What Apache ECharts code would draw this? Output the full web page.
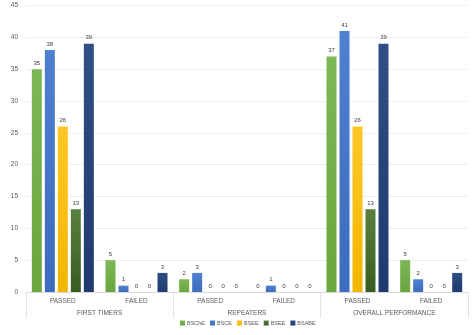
<!DOCTYPE html>
<html><head><meta charset="utf-8">
<script src="https://cdn.jsdelivr.net/npm/echarts@6/dist/echarts.min.js"></script>
<style>html,body{margin:0;padding:0;background:#fff}#c{width:474px;height:335px}</style>
</head><body><div id="c"></div>
<script>
const categories = ['PASSED','FAILED','PASSED','FAILED','PASSED','FAILED'];
const groups = ['FIRST TIMERS','REPEATERS','OVERALL PERFORMANCE'];
const seriesNames = ['BSChE','BSCE','BSEE','BSEE ','BSABE'];
const bsche = [35, 5, 2, 0, 37, 5];
const bsce  = [38, 1, 3, 1, 41, 2];
const bsee  = [26, 0, 0, 0, 26, 0];
const bsee2 = [13, 0, 0, 0, 13, 0];
const bsabe = [39, 3, 0, 0, 39, 3];
const yTicks = [0,5,10,15,20,25,30,35,40,45];

const colors = [
  ['#7cb854','#6aa63f'],
  ['#4f80d0','#3d6bbd'],
  ['#ffc726','#f2b600'],
  ['#5a8040','#385d22'],
  ['#2f4f86','#1f3a6e']
];
const values = [bsche,bsce,bsee,bsee2,bsabe];
const chart = echarts.init(document.getElementById('c'));
const font = 'Liberation Sans';
chart.setOption({
  animation:false,
  textStyle:{fontFamily:font},
  grid:{left:26,right:6,top:5.5,bottom:43,containLabel:false,outerBoundsMode:'none'},
  legend:{
    bottom:4,left:175,itemWidth:5,itemHeight:5,itemGap:5,icon:'rect',
    textStyle:{fontSize:5.5,color:'#595959',fontFamily:font,padding:[0,0,0,-3]},
    formatter:n=>n.trim(),
    data:seriesNames
  },
  xAxis:[
    {type:'category',data:categories,position:'bottom',
     axisLine:{lineStyle:{color:'#d9d9d9'}},axisTick:{show:false},
     axisLabel:{fontSize:6.5,color:'#595959',margin:6}},
    {type:'category',data:groups,position:'bottom',
     axisLine:{show:false},
     axisTick:{show:true,length:26,lineStyle:{color:'#e3e3e3'}},
     axisLabel:{fontSize:6.5,color:'#595959',margin:18}}
  ],
  yAxis:{type:'value',min:0,max:45,interval:5,
    name:'Number of Students',nameLocation:'middle',nameGap:17,
    nameTextStyle:{fontSize:5.5,color:'#404040',fontWeight:'bold'},
    axisLabel:{fontSize:6.5,color:'#595959',margin:8,formatter:v=>yTicks.includes(v)?String(v):''},
    axisLine:{show:false},axisTick:{show:false},
    splitLine:{lineStyle:{color:'#efefef'}}},
  series: seriesNames.map((n,i)=>({
    name:n,type:'bar',data:values[i],xAxisIndex:0,
    barWidth:10,barGap:'30%',barCategoryGap:'16%',
    itemStyle:{color:new echarts.graphic.LinearGradient(0,0,0,1,[{offset:0,color:colors[i][0]},{offset:1,color:colors[i][1]}])},
    label:{show:true,position:'top',fontSize:6,color:'#404040',distance:3}
  }))
});
</script></body></html>
